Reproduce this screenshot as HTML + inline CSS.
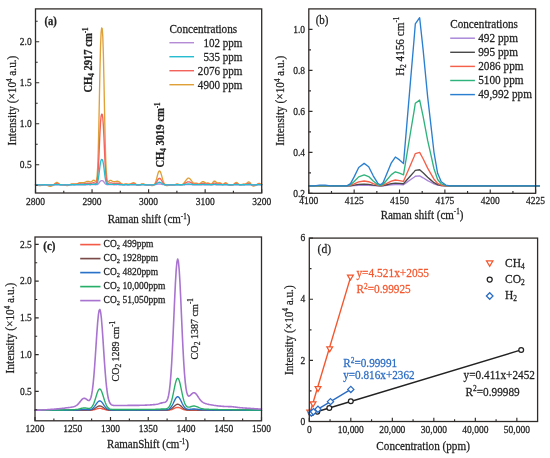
<!DOCTYPE html>
<html><head><meta charset="utf-8"><title>Raman spectra</title>
<style>
html,body{margin:0;padding:0;background:#fff;}
svg{display:block;filter:blur(0.35px)}
text{font-family:"Liberation Serif",serif;stroke-width:0.25px;}
</style></head><body>
<svg width="550" height="458" viewBox="0 0 550 458">
<rect width="550" height="458" fill="#fff"/>
<path d="M35.5 184.96 L36.07 185.02 L36.63 185.11 L37.2 185.22 L37.76 185.34 L38.33 185.45 L38.89 185.53 L39.46 185.59 L40.02 185.59 L40.59 185.54 L41.16 185.45 L41.72 185.31 L42.29 185.15 L42.85 184.98 L43.42 184.83 L43.98 184.72 L44.55 184.66 L45.11 184.68 L45.68 184.76 L46.24 184.92 L46.81 185.13 L47.38 185.38 L47.94 185.64 L48.51 185.88 L49.07 186.08 L49.64 186.21 L50.2 186.25 L50.77 186.21 L51.33 186.07 L51.9 185.84 L52.47 185.54 L53.03 185.17 L53.6 184.75 L54.16 184.27 L54.73 183.76 L55.29 183.25 L55.86 182.81 L56.42 182.53 L56.99 182.46 L57.55 182.63 L58.12 182.98 L58.69 183.43 L59.25 183.89 L59.82 184.27 L60.38 184.56 L60.95 184.74 L61.51 184.85 L62.08 184.91 L62.64 184.95 L63.21 184.99 L63.77 185.03 L64.34 185.1 L64.91 185.19 L65.47 185.3 L66.04 185.41 L66.6 185.5 L67.17 185.55 L67.73 185.51 L68.3 185.38 L68.86 185.15 L69.43 184.87 L70 184.57 L70.56 184.31 L71.13 184.13 L71.69 184.03 L72.26 183.98 L72.82 183.97 L73.39 183.97 L73.95 183.96 L74.52 183.96 L75.08 183.94 L75.65 183.9 L76.22 183.83 L76.78 183.7 L77.35 183.52 L77.91 183.3 L78.48 183.06 L79.04 182.85 L79.61 182.69 L80.17 182.59 L80.74 182.56 L81.31 182.58 L81.87 182.61 L82.44 182.63 L83 182.63 L83.57 182.6 L84.13 182.52 L84.7 182.4 L85.26 182.22 L85.83 181.99 L86.39 181.73 L86.96 181.49 L87.53 181.33 L88.09 181.31 L88.66 181.44 L89.22 181.67 L89.79 181.9 L90.35 182.01 L90.92 181.93 L91.48 181.63 L92.05 181.16 L92.62 180.67 L93.18 180.31 L93.75 180.22 L94.31 180.45 L94.88 180.92 L95.44 181.4 L96.01 181.43 L96.57 180.11 L97.14 175.86 L97.71 166.53 L98.27 150.13 L98.84 126.35 L99.4 97.69 L99.97 69.17 L100.53 46.3 L101.1 32.61 L101.66 28 L102.23 28.71 L102.79 36.38 L103.36 53.7 L103.93 79.25 L104.49 108.43 L105.06 135.64 L105.62 156.7 L106.19 170.3 L106.75 177.58 L107.32 180.7 L107.88 181.62 L108.45 181.55 L109.02 181.14 L109.58 180.71 L110.15 180.44 L110.71 180.41 L111.28 180.6 L111.84 180.91 L112.41 181.25 L112.97 181.53 L113.54 181.7 L114.1 181.76 L114.67 181.73 L115.24 181.64 L115.8 181.5 L116.37 181.36 L116.93 181.26 L117.5 181.24 L118.06 181.33 L118.63 181.55 L119.19 181.88 L119.76 182.29 L120.32 182.74 L120.89 183.2 L121.46 183.61 L122.02 183.96 L122.59 184.2 L123.15 184.33 L123.72 184.33 L124.28 184.23 L124.85 184.07 L125.41 183.94 L125.98 183.88 L126.55 183.93 L127.11 184.05 L127.68 184.18 L128.24 184.27 L128.81 184.26 L129.37 184.16 L129.94 183.99 L130.5 183.78 L131.07 183.56 L131.63 183.32 L132.2 183.1 L132.77 182.9 L133.33 182.77 L133.9 182.78 L134.46 182.97 L135.03 183.33 L135.59 183.82 L136.16 184.34 L136.72 184.79 L137.29 185.11 L137.86 185.28 L138.42 185.3 L138.99 185.2 L139.55 185.01 L140.12 184.76 L140.68 184.48 L141.25 184.21 L141.81 183.98 L142.38 183.85 L142.94 183.84 L143.51 183.96 L144.08 184.19 L144.64 184.48 L145.21 184.76 L145.77 185 L146.34 185.18 L146.9 185.29 L147.47 185.35 L148.03 185.37 L148.6 185.37 L149.17 185.36 L149.73 185.37 L150.3 185.39 L150.86 185.44 L151.43 185.5 L151.99 185.54 L152.56 185.54 L153.12 185.44 L153.69 185.16 L154.25 184.64 L154.82 183.79 L155.39 182.56 L155.95 180.93 L156.52 178.96 L157.08 176.8 L157.65 174.66 L158.21 172.8 L158.78 171.48 L159.34 170.88 L159.91 171.09 L160.48 172.06 L161.04 173.64 L161.61 175.59 L162.17 177.67 L162.74 179.66 L163.3 181.41 L163.87 182.84 L164.43 183.93 L165 184.71 L165.56 185.22 L166.13 185.51 L166.7 185.64 L167.26 185.65 L167.83 185.58 L168.39 185.46 L168.96 185.33 L169.52 185.2 L170.09 185.1 L170.65 185.03 L171.22 185.01 L171.79 185.02 L172.35 185.05 L172.92 185.08 L173.48 185.07 L174.05 185 L174.61 184.85 L175.18 184.63 L175.74 184.38 L176.31 184.17 L176.88 184.04 L177.44 184.04 L178.01 184.14 L178.57 184.32 L179.14 184.5 L179.7 184.66 L180.27 184.75 L180.83 184.76 L181.4 184.69 L181.96 184.53 L182.53 184.26 L183.1 183.87 L183.66 183.35 L184.23 182.72 L184.79 181.99 L185.36 181.19 L185.92 180.38 L186.49 179.62 L187.05 178.96 L187.62 178.47 L188.19 178.18 L188.75 178.13 L189.32 178.32 L189.88 178.74 L190.45 179.35 L191.01 180.1 L191.58 180.92 L192.14 181.72 L192.71 182.42 L193.27 182.93 L193.84 183.21 L194.41 183.28 L194.97 183.2 L195.54 183.09 L196.1 183.08 L196.67 183.21 L197.23 183.46 L197.8 183.73 L198.36 183.91 L198.93 183.93 L199.49 183.75 L200.06 183.39 L200.63 182.93 L201.19 182.44 L201.76 182.02 L202.32 181.73 L202.89 181.62 L203.45 181.72 L204.02 181.97 L204.58 182.32 L205.15 182.66 L205.72 182.93 L206.28 183.06 L206.85 183.07 L207.41 183.01 L207.98 182.97 L208.54 183.05 L209.11 183.28 L209.67 183.61 L210.24 183.94 L210.81 184.13 L211.37 184.05 L211.94 183.65 L212.5 182.98 L213.07 182.19 L213.63 181.51 L214.2 181.11 L214.76 181.1 L215.33 181.42 L215.89 181.93 L216.46 182.44 L217.03 182.8 L217.59 182.98 L218.16 182.98 L218.72 182.88 L219.29 182.79 L219.85 182.82 L220.42 183.01 L220.98 183.36 L221.55 183.8 L222.11 184.19 L222.68 184.38 L223.25 184.29 L223.81 183.94 L224.38 183.44 L224.94 182.99 L225.51 182.74 L226.07 182.8 L226.64 183.13 L227.2 183.63 L227.77 184.14 L228.34 184.57 L228.9 184.87 L229.47 185.05 L230.03 185.15 L230.6 185.18 L231.16 185.17 L231.73 185.1 L232.29 184.97 L232.86 184.75 L233.42 184.41 L233.99 183.96 L234.56 183.44 L235.12 182.94 L235.69 182.56 L236.25 182.42 L236.82 182.55 L237.38 182.91 L237.95 183.41 L238.51 183.93 L239.08 184.37 L239.65 184.66 L240.21 184.77 L240.78 184.74 L241.34 184.6 L241.91 184.43 L242.47 184.3 L243.04 184.22 L243.6 184.19 L244.17 184.18 L244.74 184.13 L245.3 184 L245.87 183.77 L246.43 183.43 L247 182.99 L247.56 182.52 L248.13 182.13 L248.69 181.93 L249.26 182.05 L249.82 182.5 L250.39 183.21 L250.96 184.03 L251.52 184.81 L252.09 185.42 L252.65 185.82 L253.22 186.01 L253.78 186.04 L254.35 185.94 L254.91 185.75 L255.48 185.48 L256.04 185.14 L256.61 184.73 L257.18 184.29 L257.74 183.88 L258.31 183.58 L258.87 183.44 L259.44 183.49 L260 183.68 L260.57 183.94 L261.13 184.18 L261.7 184.35" stroke="#e0a038" stroke-width="1.35" fill="none" stroke-linejoin="round" stroke-linecap="round"/>
<path d="M35.5 184.87 L36.07 184.9 L36.63 184.94 L37.2 184.99 L37.76 185.04 L38.33 185.09 L38.89 185.13 L39.46 185.15 L40.02 185.16 L40.59 185.13 L41.16 185.09 L41.72 185.03 L42.29 184.96 L42.85 184.88 L43.42 184.81 L43.98 184.76 L44.55 184.74 L45.11 184.74 L45.68 184.78 L46.24 184.85 L46.81 184.95 L47.38 185.06 L47.94 185.18 L48.51 185.29 L49.07 185.38 L49.64 185.43 L50.2 185.45 L50.77 185.43 L51.33 185.37 L51.9 185.27 L52.47 185.13 L53.03 184.97 L53.6 184.78 L54.16 184.56 L54.73 184.33 L55.29 184.1 L55.86 183.91 L56.42 183.78 L56.99 183.75 L57.55 183.82 L58.12 183.98 L58.69 184.18 L59.25 184.39 L59.82 184.56 L60.38 184.69 L60.95 184.77 L61.51 184.82 L62.08 184.85 L62.64 184.87 L63.21 184.88 L63.77 184.91 L64.34 184.94 L64.91 184.98 L65.47 185.03 L66.04 185.08 L66.6 185.12 L67.17 185.14 L67.73 185.12 L68.3 185.06 L68.86 184.96 L69.43 184.83 L70 184.7 L70.56 184.58 L71.13 184.5 L71.69 184.45 L72.26 184.43 L72.82 184.43 L73.39 184.42 L73.95 184.42 L74.52 184.42 L75.08 184.41 L75.65 184.4 L76.22 184.36 L76.78 184.3 L77.35 184.22 L77.91 184.12 L78.48 184.02 L79.04 183.92 L79.61 183.85 L80.17 183.81 L80.74 183.79 L81.31 183.8 L81.87 183.81 L82.44 183.82 L83 183.82 L83.57 183.81 L84.13 183.77 L84.7 183.72 L85.26 183.64 L85.83 183.53 L86.39 183.42 L86.96 183.31 L87.53 183.24 L88.09 183.23 L88.66 183.29 L89.22 183.39 L89.79 183.49 L90.35 183.54 L90.92 183.51 L91.48 183.37 L92.05 183.16 L92.62 182.94 L93.18 182.78 L93.75 182.74 L94.31 182.84 L94.88 183.05 L95.44 183.27 L96.01 183.28 L96.57 182.69 L97.14 180.77 L97.71 176.57 L98.27 169.18 L98.84 158.46 L99.4 145.54 L99.97 132.69 L100.53 122.38 L101.1 116.22 L101.66 114.14 L102.23 114.46 L102.79 117.91 L103.36 125.72 L103.93 137.23 L104.49 150.39 L105.06 162.65 L105.62 172.14 L106.19 178.27 L106.75 181.55 L107.32 182.96 L107.88 183.37 L108.45 183.34 L109.02 183.15 L109.58 182.96 L110.15 182.84 L110.71 182.83 L111.28 182.91 L111.84 183.05 L112.41 183.2 L112.97 183.33 L113.54 183.4 L114.1 183.43 L114.67 183.42 L115.24 183.38 L115.8 183.32 L116.37 183.25 L116.93 183.21 L117.5 183.2 L118.06 183.24 L118.63 183.34 L119.19 183.48 L119.76 183.67 L120.32 183.87 L120.89 184.08 L121.46 184.27 L122.02 184.42 L122.59 184.53 L123.15 184.59 L123.72 184.59 L124.28 184.54 L124.85 184.47 L125.41 184.41 L125.98 184.39 L126.55 184.41 L127.11 184.46 L127.68 184.52 L128.24 184.56 L128.81 184.56 L129.37 184.51 L129.94 184.44 L130.5 184.34 L131.07 184.24 L131.63 184.14 L132.2 184.03 L132.77 183.94 L133.33 183.89 L133.9 183.89 L134.46 183.98 L135.03 184.14 L135.59 184.36 L136.16 184.59 L136.72 184.8 L137.29 184.94 L137.86 185.02 L138.42 185.02 L138.99 184.98 L139.55 184.89 L140.12 184.78 L140.68 184.66 L141.25 184.53 L141.81 184.43 L142.38 184.37 L142.94 184.37 L143.51 184.42 L144.08 184.53 L144.64 184.65 L145.21 184.78 L145.77 184.89 L146.34 184.97 L146.9 185.02 L147.47 185.05 L148.03 185.05 L148.6 185.05 L149.17 185.05 L149.73 185.06 L150.3 185.07 L150.86 185.09 L151.43 185.11 L151.99 185.13 L152.56 185.13 L153.12 185.08 L153.69 184.95 L154.25 184.7 L154.82 184.31 L155.39 183.73 L155.95 182.97 L156.52 182.05 L157.08 181.05 L157.65 180.05 L158.21 179.18 L158.78 178.57 L159.34 178.29 L159.91 178.39 L160.48 178.85 L161.04 179.59 L161.61 180.5 L162.17 181.47 L162.74 182.4 L163.3 183.21 L163.87 183.88 L164.43 184.38 L165 184.74 L165.56 184.98 L166.13 185.12 L166.7 185.18 L167.26 185.18 L167.83 185.15 L168.39 185.1 L168.96 185.04 L169.52 184.98 L170.09 184.93 L170.65 184.9 L171.22 184.89 L171.79 184.9 L172.35 184.91 L172.92 184.92 L173.48 184.92 L174.05 184.89 L174.61 184.82 L175.18 184.72 L175.74 184.61 L176.31 184.51 L176.88 184.46 L177.44 184.46 L178.01 184.5 L178.57 184.58 L179.14 184.67 L179.7 184.73 L180.27 184.78 L180.83 184.78 L181.4 184.75 L181.96 184.68 L182.53 184.56 L183.1 184.38 L183.66 184.15 L184.23 183.86 L184.79 183.53 L185.36 183.18 L185.92 182.81 L186.49 182.47 L187.05 182.17 L187.62 181.95 L188.19 181.82 L188.75 181.8 L189.32 181.88 L189.88 182.07 L190.45 182.35 L191.01 182.68 L191.58 183.05 L192.14 183.41 L192.71 183.73 L193.27 183.96 L193.84 184.09 L194.41 184.12 L194.97 184.08 L195.54 184.03 L196.1 184.03 L196.67 184.08 L197.23 184.19 L197.8 184.32 L198.36 184.4 L198.93 184.41 L199.49 184.33 L200.06 184.17 L200.63 183.96 L201.19 183.74 L201.76 183.55 L202.32 183.42 L202.89 183.37 L203.45 183.41 L204.02 183.53 L204.58 183.68 L205.15 183.84 L205.72 183.96 L206.28 184.02 L206.85 184.02 L207.41 183.99 L207.98 183.98 L208.54 184.01 L209.11 184.11 L209.67 184.26 L210.24 184.41 L210.81 184.5 L211.37 184.46 L211.94 184.28 L212.5 183.98 L213.07 183.63 L213.63 183.32 L214.2 183.14 L214.76 183.13 L215.33 183.28 L215.89 183.51 L216.46 183.74 L217.03 183.9 L217.59 183.98 L218.16 183.98 L218.72 183.94 L219.29 183.9 L219.85 183.91 L220.42 183.99 L220.98 184.15 L221.55 184.35 L222.11 184.52 L222.68 184.61 L223.25 184.57 L223.81 184.41 L224.38 184.19 L224.94 183.98 L225.51 183.87 L226.07 183.9 L226.64 184.05 L227.2 184.27 L227.77 184.5 L228.34 184.7 L228.9 184.83 L229.47 184.91 L230.03 184.96 L230.6 184.97 L231.16 184.97 L231.73 184.94 L232.29 184.88 L232.86 184.78 L233.42 184.62 L233.99 184.42 L234.56 184.19 L235.12 183.96 L235.69 183.79 L236.25 183.73 L236.82 183.79 L237.38 183.95 L237.95 184.18 L238.51 184.41 L239.08 184.61 L239.65 184.73 L240.21 184.79 L240.78 184.77 L241.34 184.71 L241.91 184.64 L242.47 184.57 L243.04 184.54 L243.6 184.52 L244.17 184.52 L244.74 184.5 L245.3 184.44 L245.87 184.34 L246.43 184.18 L247 183.99 L247.56 183.78 L248.13 183.6 L248.69 183.51 L249.26 183.56 L249.82 183.77 L250.39 184.09 L250.96 184.46 L251.52 184.8 L252.09 185.08 L252.65 185.26 L253.22 185.34 L253.78 185.36 L254.35 185.31 L254.91 185.23 L255.48 185.11 L256.04 184.95 L256.61 184.77 L257.18 184.57 L257.74 184.39 L258.31 184.25 L258.87 184.19 L259.44 184.21 L260 184.3 L260.57 184.41 L261.13 184.52 L261.7 184.6" stroke="#f4625c" stroke-width="1.35" fill="none" stroke-linejoin="round" stroke-linecap="round"/>
<path d="M35.5 184.8 L36.07 184.81 L36.63 184.81 L37.2 184.81 L37.76 184.82 L38.33 184.82 L38.89 184.82 L39.46 184.82 L40.02 184.82 L40.59 184.82 L41.16 184.82 L41.72 184.81 L42.29 184.81 L42.85 184.8 L43.42 184.8 L43.98 184.8 L44.55 184.8 L45.11 184.8 L45.68 184.8 L46.24 184.8 L46.81 184.81 L47.38 184.82 L47.94 184.82 L48.51 184.83 L49.07 184.84 L49.64 184.84 L50.2 184.84 L50.77 184.84 L51.33 184.84 L51.9 184.83 L52.47 184.82 L53.03 184.81 L53.6 184.8 L54.16 184.78 L54.73 184.77 L55.29 184.75 L55.86 184.74 L56.42 184.73 L56.99 184.73 L57.55 184.73 L58.12 184.75 L58.69 184.76 L59.25 184.77 L59.82 184.78 L60.38 184.79 L60.95 184.8 L61.51 184.8 L62.08 184.8 L62.64 184.8 L63.21 184.81 L63.77 184.81 L64.34 184.81 L64.91 184.81 L65.47 184.81 L66.04 184.82 L66.6 184.82 L67.17 184.82 L67.73 184.82 L68.3 184.82 L68.86 184.81 L69.43 184.8 L70 184.79 L70.56 184.79 L71.13 184.78 L71.69 184.78 L72.26 184.78 L72.82 184.77 L73.39 184.77 L73.95 184.77 L74.52 184.77 L75.08 184.77 L75.65 184.77 L76.22 184.77 L76.78 184.77 L77.35 184.76 L77.91 184.75 L78.48 184.75 L79.04 184.74 L79.61 184.74 L80.17 184.73 L80.74 184.73 L81.31 184.73 L81.87 184.73 L82.44 184.73 L83 184.73 L83.57 184.73 L84.13 184.73 L84.7 184.73 L85.26 184.72 L85.83 184.72 L86.39 184.71 L86.96 184.7 L87.53 184.7 L88.09 184.69 L88.66 184.7 L89.22 184.71 L89.79 184.71 L90.35 184.72 L90.92 184.71 L91.48 184.7 L92.05 184.69 L92.62 184.68 L93.18 184.66 L93.75 184.66 L94.31 184.67 L94.88 184.68 L95.44 184.7 L96.01 184.7 L96.57 184.67 L97.14 184.56 L97.71 184.31 L98.27 183.87 L98.84 183.23 L99.4 182.47 L99.97 181.71 L100.53 181.1 L101.1 180.73 L101.66 180.61 L102.23 180.63 L102.79 180.83 L103.36 181.29 L103.93 181.97 L104.49 182.75 L105.06 183.48 L105.62 184.04 L106.19 184.4 L106.75 184.6 L107.32 184.68 L107.88 184.71 L108.45 184.7 L109.02 184.69 L109.58 184.68 L110.15 184.67 L110.71 184.67 L111.28 184.67 L111.84 184.68 L112.41 184.69 L112.97 184.7 L113.54 184.71 L114.1 184.71 L114.67 184.71 L115.24 184.7 L115.8 184.7 L116.37 184.7 L116.93 184.69 L117.5 184.69 L118.06 184.7 L118.63 184.7 L119.19 184.71 L119.76 184.72 L120.32 184.74 L120.89 184.75 L121.46 184.76 L122.02 184.77 L122.59 184.78 L123.15 184.79 L123.72 184.79 L124.28 184.78 L124.85 184.78 L125.41 184.77 L125.98 184.77 L126.55 184.77 L127.11 184.78 L127.68 184.78 L128.24 184.78 L128.81 184.78 L129.37 184.78 L129.94 184.78 L130.5 184.77 L131.07 184.76 L131.63 184.76 L132.2 184.75 L132.77 184.74 L133.33 184.74 L133.9 184.74 L134.46 184.74 L135.03 184.76 L135.59 184.77 L136.16 184.79 L136.72 184.8 L137.29 184.81 L137.86 184.81 L138.42 184.81 L138.99 184.81 L139.55 184.81 L140.12 184.8 L140.68 184.79 L141.25 184.78 L141.81 184.78 L142.38 184.77 L142.94 184.77 L143.51 184.77 L144.08 184.78 L144.64 184.79 L145.21 184.8 L145.77 184.81 L146.34 184.81 L146.9 184.81 L147.47 184.82 L148.03 184.82 L148.6 184.82 L149.17 184.82 L149.73 184.82 L150.3 184.82 L150.86 184.82 L151.43 184.82 L151.99 184.82 L152.56 184.81 L153.12 184.8 L153.69 184.79 L154.25 184.75 L154.82 184.7 L155.39 184.63 L155.95 184.53 L156.52 184.41 L157.08 184.29 L157.65 184.17 L158.21 184.06 L158.78 183.99 L159.34 183.96 L159.91 183.97 L160.48 184.04 L161.04 184.13 L161.61 184.25 L162.17 184.38 L162.74 184.49 L163.3 184.59 L163.87 184.67 L164.43 184.73 L165 184.77 L165.56 184.8 L166.13 184.81 L166.7 184.82 L167.26 184.82 L167.83 184.82 L168.39 184.82 L168.96 184.82 L169.52 184.81 L170.09 184.81 L170.65 184.81 L171.22 184.81 L171.79 184.81 L172.35 184.81 L172.92 184.81 L173.48 184.81 L174.05 184.81 L174.61 184.8 L175.18 184.79 L175.74 184.79 L176.31 184.78 L176.88 184.78 L177.44 184.78 L178.01 184.78 L178.57 184.79 L179.14 184.79 L179.7 184.8 L180.27 184.8 L180.83 184.8 L181.4 184.8 L181.96 184.79 L182.53 184.78 L183.1 184.77 L183.66 184.76 L184.23 184.74 L184.79 184.72 L185.36 184.69 L185.92 184.67 L186.49 184.64 L187.05 184.62 L187.62 184.61 L188.19 184.6 L188.75 184.6 L189.32 184.61 L189.88 184.62 L190.45 184.64 L191.01 184.66 L191.58 184.68 L192.14 184.71 L192.71 184.73 L193.27 184.74 L193.84 184.75 L194.41 184.75 L194.97 184.75 L195.54 184.75 L196.1 184.75 L196.67 184.75 L197.23 184.76 L197.8 184.77 L198.36 184.77 L198.93 184.77 L199.49 184.77 L200.06 184.76 L200.63 184.74 L201.19 184.73 L201.76 184.72 L202.32 184.71 L202.89 184.7 L203.45 184.71 L204.02 184.71 L204.58 184.73 L205.15 184.74 L205.72 184.74 L206.28 184.75 L206.85 184.75 L207.41 184.75 L207.98 184.74 L208.54 184.75 L209.11 184.75 L209.67 184.76 L210.24 184.77 L210.81 184.78 L211.37 184.78 L211.94 184.77 L212.5 184.74 L213.07 184.72 L213.63 184.7 L214.2 184.69 L214.76 184.69 L215.33 184.7 L215.89 184.71 L216.46 184.73 L217.03 184.74 L217.59 184.74 L218.16 184.74 L218.72 184.74 L219.29 184.74 L219.85 184.74 L220.42 184.75 L220.98 184.76 L221.55 184.77 L222.11 184.78 L222.68 184.79 L223.25 184.78 L223.81 184.77 L224.38 184.76 L224.94 184.75 L225.51 184.74 L226.07 184.74 L226.64 184.75 L227.2 184.76 L227.77 184.78 L228.34 184.79 L228.9 184.8 L229.47 184.81 L230.03 184.81 L230.6 184.81 L231.16 184.81 L231.73 184.81 L232.29 184.8 L232.86 184.8 L233.42 184.79 L233.99 184.77 L234.56 184.76 L235.12 184.74 L235.69 184.73 L236.25 184.73 L236.82 184.73 L237.38 184.74 L237.95 184.76 L238.51 184.77 L239.08 184.79 L239.65 184.8 L240.21 184.8 L240.78 184.8 L241.34 184.79 L241.91 184.79 L242.47 184.78 L243.04 184.78 L243.6 184.78 L244.17 184.78 L244.74 184.78 L245.3 184.78 L245.87 184.77 L246.43 184.76 L247 184.75 L247.56 184.73 L248.13 184.72 L248.69 184.71 L249.26 184.72 L249.82 184.73 L250.39 184.75 L250.96 184.78 L251.52 184.8 L252.09 184.82 L252.65 184.83 L253.22 184.84 L253.78 184.84 L254.35 184.83 L254.91 184.83 L255.48 184.82 L256.04 184.81 L256.61 184.8 L257.18 184.78 L257.74 184.77 L258.31 184.76 L258.87 184.76 L259.44 184.76 L260 184.77 L260.57 184.77 L261.13 184.78 L261.7 184.79" stroke="#b58bd6" stroke-width="1.35" fill="none" stroke-linejoin="round" stroke-linecap="round"/>
<path d="M35.5 184.82 L36.07 184.83 L36.63 184.84 L37.2 184.85 L37.76 184.86 L38.33 184.88 L38.89 184.89 L39.46 184.89 L40.02 184.89 L40.59 184.89 L41.16 184.88 L41.72 184.86 L42.29 184.84 L42.85 184.82 L43.42 184.8 L43.98 184.79 L44.55 184.78 L45.11 184.78 L45.68 184.8 L46.24 184.81 L46.81 184.84 L47.38 184.87 L47.94 184.9 L48.51 184.93 L49.07 184.95 L49.64 184.97 L50.2 184.97 L50.77 184.97 L51.33 184.95 L51.9 184.92 L52.47 184.89 L53.03 184.84 L53.6 184.79 L54.16 184.74 L54.73 184.67 L55.29 184.61 L55.86 184.56 L56.42 184.53 L56.99 184.52 L57.55 184.54 L58.12 184.58 L58.69 184.64 L59.25 184.69 L59.82 184.74 L60.38 184.77 L60.95 184.79 L61.51 184.81 L62.08 184.81 L62.64 184.82 L63.21 184.82 L63.77 184.83 L64.34 184.84 L64.91 184.85 L65.47 184.86 L66.04 184.87 L66.6 184.88 L67.17 184.89 L67.73 184.88 L68.3 184.87 L68.86 184.84 L69.43 184.81 L70 184.77 L70.56 184.74 L71.13 184.72 L71.69 184.71 L72.26 184.7 L72.82 184.7 L73.39 184.7 L73.95 184.7 L74.52 184.7 L75.08 184.7 L75.65 184.69 L76.22 184.68 L76.78 184.67 L77.35 184.65 L77.91 184.62 L78.48 184.59 L79.04 184.57 L79.61 184.55 L80.17 184.53 L80.74 184.53 L81.31 184.53 L81.87 184.54 L82.44 184.54 L83 184.54 L83.57 184.54 L84.13 184.53 L84.7 184.51 L85.26 184.49 L85.83 184.46 L86.39 184.43 L86.96 184.4 L87.53 184.38 L88.09 184.38 L88.66 184.4 L89.22 184.42 L89.79 184.45 L90.35 184.46 L90.92 184.45 L91.48 184.42 L92.05 184.36 L92.62 184.3 L93.18 184.26 L93.75 184.25 L94.31 184.28 L94.88 184.33 L95.44 184.38 L96.01 184.36 L96.57 184.13 L97.14 183.42 L97.71 181.9 L98.27 179.23 L98.84 175.37 L99.4 170.72 L99.97 166.09 L100.53 162.38 L101.1 160.17 L101.66 159.43 L102.23 159.55 L102.79 160.8 L103.36 163.62 L103.93 167.77 L104.49 172.51 L105.06 176.92 L105.62 180.34 L106.19 182.54 L106.75 183.73 L107.32 184.24 L107.88 184.4 L108.45 184.4 L109.02 184.36 L109.58 184.31 L110.15 184.28 L110.71 184.27 L111.28 184.3 L111.84 184.33 L112.41 184.37 L112.97 184.41 L113.54 184.43 L114.1 184.43 L114.67 184.43 L115.24 184.42 L115.8 184.4 L116.37 184.39 L116.93 184.38 L117.5 184.37 L118.06 184.38 L118.63 184.41 L119.19 184.45 L119.76 184.5 L120.32 184.55 L120.89 184.61 L121.46 184.66 L122.02 184.7 L122.59 184.73 L123.15 184.74 L123.72 184.74 L124.28 184.73 L124.85 184.71 L125.41 184.7 L125.98 184.69 L126.55 184.69 L127.11 184.71 L127.68 184.73 L128.24 184.74 L128.81 184.73 L129.37 184.72 L129.94 184.7 L130.5 184.68 L131.07 184.65 L131.63 184.62 L132.2 184.6 L132.77 184.57 L133.33 184.56 L133.9 184.56 L134.46 184.58 L135.03 184.62 L135.59 184.68 L136.16 184.74 L136.72 184.8 L137.29 184.84 L137.86 184.86 L138.42 184.86 L138.99 184.85 L139.55 184.82 L140.12 184.8 L140.68 184.76 L141.25 184.73 L141.81 184.7 L142.38 184.69 L142.94 184.68 L143.51 184.7 L144.08 184.73 L144.64 184.76 L145.21 184.79 L145.77 184.82 L146.34 184.84 L146.9 184.86 L147.47 184.87 L148.03 184.87 L148.6 184.87 L149.17 184.87 L149.73 184.87 L150.3 184.87 L150.86 184.87 L151.43 184.88 L151.99 184.88 L152.56 184.87 L153.12 184.85 L153.69 184.79 L154.25 184.69 L154.82 184.53 L155.39 184.31 L155.95 184.02 L156.52 183.66 L157.08 183.28 L157.65 182.9 L158.21 182.57 L158.78 182.34 L159.34 182.24 L159.91 182.29 L160.48 182.48 L161.04 182.77 L161.61 183.13 L162.17 183.51 L162.74 183.86 L163.3 184.17 L163.87 184.42 L164.43 184.61 L165 184.74 L165.56 184.82 L166.13 184.87 L166.7 184.89 L167.26 184.9 L167.83 184.89 L168.39 184.88 L168.96 184.86 L169.52 184.85 L170.09 184.84 L170.65 184.83 L171.22 184.82 L171.79 184.83 L172.35 184.83 L172.92 184.83 L173.48 184.83 L174.05 184.82 L174.61 184.81 L175.18 184.78 L175.74 184.75 L176.31 184.72 L176.88 184.71 L177.44 184.71 L178.01 184.72 L178.57 184.74 L179.14 184.76 L179.7 184.78 L180.27 184.79 L180.83 184.79 L181.4 184.79 L181.96 184.77 L182.53 184.73 L183.1 184.69 L183.66 184.63 L184.23 184.55 L184.79 184.46 L185.36 184.37 L185.92 184.27 L186.49 184.18 L187.05 184.1 L187.62 184.04 L188.19 184.01 L188.75 184 L189.32 184.02 L189.88 184.07 L190.45 184.15 L191.01 184.24 L191.58 184.33 L192.14 184.43 L192.71 184.51 L193.27 184.58 L193.84 184.61 L194.41 184.62 L194.97 184.61 L195.54 184.59 L196.1 184.59 L196.67 184.61 L197.23 184.64 L197.8 184.67 L198.36 184.69 L198.93 184.7 L199.49 184.67 L200.06 184.63 L200.63 184.58 L201.19 184.52 L201.76 184.47 L202.32 184.43 L202.89 184.42 L203.45 184.43 L204.02 184.46 L204.58 184.5 L205.15 184.54 L205.72 184.58 L206.28 184.59 L206.85 184.59 L207.41 184.58 L207.98 184.58 L208.54 184.59 L209.11 184.62 L209.67 184.66 L210.24 184.7 L210.81 184.72 L211.37 184.71 L211.94 184.66 L212.5 184.58 L213.07 184.49 L213.63 184.4 L214.2 184.36 L214.76 184.36 L215.33 184.39 L215.89 184.46 L216.46 184.52 L217.03 184.56 L217.59 184.58 L218.16 184.58 L218.72 184.57 L219.29 184.56 L219.85 184.56 L220.42 184.58 L220.98 184.63 L221.55 184.68 L222.11 184.73 L222.68 184.75 L223.25 184.74 L223.81 184.7 L224.38 184.64 L224.94 184.58 L225.51 184.55 L226.07 184.56 L226.64 184.6 L227.2 184.66 L227.77 184.72 L228.34 184.77 L228.9 184.81 L229.47 184.83 L230.03 184.84 L230.6 184.85 L231.16 184.84 L231.73 184.84 L232.29 184.82 L232.86 184.79 L233.42 184.75 L233.99 184.7 L234.56 184.64 L235.12 184.58 L235.69 184.53 L236.25 184.51 L236.82 184.53 L237.38 184.57 L237.95 184.63 L238.51 184.7 L239.08 184.75 L239.65 184.78 L240.21 184.8 L240.78 184.79 L241.34 184.78 L241.91 184.76 L242.47 184.74 L243.04 184.73 L243.6 184.73 L244.17 184.72 L244.74 184.72 L245.3 184.7 L245.87 184.68 L246.43 184.64 L247 184.58 L247.56 184.53 L248.13 184.48 L248.69 184.46 L249.26 184.47 L249.82 184.52 L250.39 184.61 L250.96 184.71 L251.52 184.8 L252.09 184.87 L252.65 184.92 L253.22 184.94 L253.78 184.95 L254.35 184.94 L254.91 184.91 L255.48 184.88 L256.04 184.84 L256.61 184.79 L257.18 184.74 L257.74 184.69 L258.31 184.65 L258.87 184.64 L259.44 184.64 L260 184.67 L260.57 184.7 L261.13 184.73 L261.7 184.75" stroke="#27bcd0" stroke-width="1.35" fill="none" stroke-linejoin="round" stroke-linecap="round"/>
<rect x="35.5" y="8.9" width="226.2" height="184.1" fill="none" stroke="#302c2a" stroke-width="1.3"/>
<path d="M35.5 193.0v-3.7M92.05 193.0v-3.7M148.6 193.0v-3.7M205.15 193.0v-3.7M261.7 193.0v-3.7M63.77 193.0v-2.2M120.32 193.0v-2.2M176.88 193.0v-2.2M233.42 193.0v-2.2" stroke="#302c2a" stroke-width="1.15" fill="none"/>
<text transform="translate(35.5 204.5) scale(0.9091 1)" font-size="10.45" text-anchor="middle" fill="#222" stroke="#222">2800</text>
<text transform="translate(92.05 204.5) scale(0.9091 1)" font-size="10.45" text-anchor="middle" fill="#222" stroke="#222">2900</text>
<text transform="translate(148.6 204.5) scale(0.9091 1)" font-size="10.45" text-anchor="middle" fill="#222" stroke="#222">3000</text>
<text transform="translate(205.15 204.5) scale(0.9091 1)" font-size="10.45" text-anchor="middle" fill="#222" stroke="#222">3100</text>
<text transform="translate(261.7 204.5) scale(0.9091 1)" font-size="10.45" text-anchor="middle" fill="#222" stroke="#222">3200</text>
<path d="M35.5 164.71h3.7M35.5 123.71h3.7M35.5 82.7h3.7M35.5 41.7h3.7M35.5 185.21h2.2M35.5 144.21h2.2M35.5 103.21h2.2M35.5 62.2h2.2M35.5 21.2h2.2" stroke="#302c2a" stroke-width="1.15" fill="none"/>
<text transform="translate(31.7 167.91) scale(0.9091 1)" font-size="10.45" text-anchor="end" fill="#222" stroke="#222">0.5</text>
<text transform="translate(31.7 126.91) scale(0.9091 1)" font-size="10.45" text-anchor="end" fill="#222" stroke="#222">1.0</text>
<text transform="translate(31.7 85.9) scale(0.9091 1)" font-size="10.45" text-anchor="end" fill="#222" stroke="#222">1.5</text>
<text transform="translate(31.7 44.9) scale(0.9091 1)" font-size="10.45" text-anchor="end" fill="#222" stroke="#222">2.0</text>
<text transform="translate(44.5 24.5) scale(0.9091 1)" font-size="11.66" text-anchor="start" font-weight="bold" stroke-width="0" fill="#222" stroke="#222">(a)</text>
<text transform="translate(15.9 100.6) rotate(-90) scale(0.9091 1)" font-size="12.43" text-anchor="middle" fill="#222" stroke="#222">Intensity (×10<tspan baseline-shift="4" font-size="7.48">4</tspan> a.u.)</text>
<text transform="translate(149 222.7) scale(0.9091 1)" font-size="12.1" text-anchor="middle" fill="#222" stroke="#222">Raman shift (cm<tspan baseline-shift="4" font-size="7.7">-1</tspan>)</text>
<text transform="translate(92.1 60.0) rotate(-90) scale(0.9091 1)" font-size="11.66" text-anchor="middle" font-weight="bold" stroke-width="0" fill="#222" stroke="#222">CH<tspan baseline-shift="-2.2" font-size="7.7">4</tspan> 2917 cm<tspan baseline-shift="4" font-size="7.7">-1</tspan></text>
<text transform="translate(163.7 135.0) rotate(-90) scale(0.9091 1)" font-size="11.66" text-anchor="middle" font-weight="bold" stroke-width="0" fill="#222" stroke="#222">CH<tspan baseline-shift="-2.2" font-size="7.7">4</tspan> 3019 cm<tspan baseline-shift="4" font-size="7.7">-1</tspan></text>
<text transform="translate(169.4 32.6) scale(0.9091 1)" font-size="12.32" text-anchor="start" fill="#222" stroke="#222">Concentrations</text>
<path d="M169.4 42.7H194" stroke="#b58bd6" stroke-width="1.45"/>
<text transform="translate(242.5 46.6) scale(0.9091 1)" font-size="12.21" text-anchor="end" fill="#222" stroke="#222">102 ppm</text>
<path d="M169.4 56.7H194" stroke="#27bcd0" stroke-width="1.45"/>
<text transform="translate(242.5 60.6) scale(0.9091 1)" font-size="12.21" text-anchor="end" fill="#222" stroke="#222">535 ppm</text>
<path d="M169.4 70.7H194" stroke="#f4625c" stroke-width="1.45"/>
<text transform="translate(242.5 74.6) scale(0.9091 1)" font-size="12.21" text-anchor="end" fill="#222" stroke="#222">2076 ppm</text>
<path d="M169.4 84.7H194" stroke="#e0a038" stroke-width="1.45"/>
<text transform="translate(242.5 88.6) scale(0.9091 1)" font-size="12.21" text-anchor="end" fill="#222" stroke="#222">4900 ppm</text>
<path d="M308.8 185.92 L314.24 185.92 L319.69 185.92 L325.13 185.92 L330.57 185.92 L337.83 185.92 L346.9 185.92 L350.53 185.84 L354.16 185.6 L358.7 185.25 L364.14 185.1 L368.68 185.23 L373.21 185.56 L377.75 185.83 L379.56 185.87 L381.38 185.84 L383.19 185.75 L386.82 185.32 L391.36 184.78 L395.35 184.49 L399.52 184.63 L403.51 184.76 L406.78 182.38 L410.41 179.76 L414.04 177.2 L415.31 176.26 L419.66 175.88 L423.11 177.79 L427.64 180.6 L430.36 182.01 L433.99 183.92 L437.62 185.17 L441.25 185.67 L445.79 185.87 L450.32 185.92 L463.02 185.92 L490.24 185.92 L535.6 185.92 L539.23 185.92" stroke="#a884d8" stroke-width="1.35" fill="none" stroke-linejoin="round" stroke-linecap="round"/>
<path d="M308.8 185.92 L314.24 185.92 L319.69 185.92 L325.13 185.92 L330.57 185.92 L337.83 185.92 L346.9 185.92 L350.53 185.74 L354.16 185.19 L358.7 184.41 L364.14 184.08 L368.68 184.36 L373.21 185.09 L377.75 185.7 L379.56 185.81 L381.38 185.75 L383.19 185.58 L386.82 184.72 L391.36 183.63 L395.35 183.06 L399.52 183.34 L403.51 183.72 L406.78 180.05 L410.41 175.93 L414.04 171.86 L415.31 170.34 L419.66 169.74 L423.11 172.81 L427.64 177.35 L430.36 179.61 L433.99 182.69 L437.62 184.71 L441.25 185.52 L445.79 185.84 L450.32 185.92 L463.02 185.92 L490.24 185.92 L535.6 185.92 L539.23 185.92" stroke="#4a4a4a" stroke-width="1.35" fill="none" stroke-linejoin="round" stroke-linecap="round"/>
<path d="M308.8 185.92 L314.24 185.92 L319.69 185.92 L325.13 185.92 L330.57 185.92 L337.83 185.92 L346.9 185.92 L350.53 185.43 L354.16 183.96 L358.7 181.89 L364.14 181.01 L368.68 181.74 L373.21 183.71 L377.75 185.33 L379.56 185.63 L381.38 185.57 L383.19 185.21 L386.82 183.43 L391.36 181.17 L395.35 179.98 L399.52 180.58 L403.51 181.35 L406.78 173.72 L410.41 165.17 L414.04 156.73 L415.31 153.57 L419.66 152.32 L423.11 158.71 L427.64 168.12 L430.36 172.82 L433.99 179.2 L437.62 183.4 L441.25 185.08 L445.79 185.76 L450.32 185.92 L463.02 185.92 L490.24 185.92 L535.6 185.92 L539.23 185.92" stroke="#f4604a" stroke-width="1.35" fill="none" stroke-linejoin="round" stroke-linecap="round"/>
<path d="M308.8 185.92 L314.24 185.92 L319.69 185.92 L325.13 185.92 L330.57 185.92 L337.83 185.92 L346.9 185.92 L350.53 184.82 L354.16 181.5 L358.7 176.85 L364.14 174.86 L368.68 176.52 L373.21 180.95 L377.75 184.6 L379.56 185.26 L381.38 185.08 L383.19 184.23 L386.82 179.99 L391.36 174.61 L395.35 171.79 L399.52 173.2 L403.51 174.87 L406.78 155.07 L410.41 133 L414.04 111.33 L415.31 103.25 L419.66 100.08 L423.11 116.39 L427.64 140.42 L430.36 152.44 L433.99 168.75 L437.62 179.49 L441.25 183.78 L445.79 185.49 L450.32 185.92 L463.02 185.92 L490.24 185.92 L535.6 185.92 L539.23 185.92" stroke="#2fb37c" stroke-width="1.35" fill="none" stroke-linejoin="round" stroke-linecap="round"/>
<path d="M308.8 185.92 L314.24 185.92 L319.69 185.1 L325.13 185.1 L330.57 185.92 L337.83 185.92 L346.9 185.92 L350.53 183.67 L354.16 176.91 L358.7 167.44 L364.14 163.39 L368.68 166.77 L373.21 175.78 L377.75 183.22 L379.56 184.57 L381.38 184.19 L383.19 182.46 L386.82 173.79 L391.36 162.81 L395.35 157.03 L399.52 159.92 L403.51 163.54 L406.78 125.11 L410.41 82.11 L414.04 39.76 L415.31 23.93 L419.66 17.71 L423.11 49.67 L427.64 96.77 L430.36 120.32 L433.99 152.28 L437.62 173.31 L441.25 181.72 L445.79 185.08 L450.32 185.92 L463.02 185.92 L490.24 185.92 L535.6 185.92 L539.23 185.92" stroke="#2a7fd0" stroke-width="1.35" fill="none" stroke-linejoin="round" stroke-linecap="round"/>
<rect x="308.8" y="8.9" width="226.8" height="184.4" fill="none" stroke="#302c2a" stroke-width="1.3"/>
<path d="M308.8 193.3v-3.7M354.16 193.3v-3.7M399.52 193.3v-3.7M444.88 193.3v-3.7M490.24 193.3v-3.7M535.6 193.3v-3.7M331.48 193.3v-2.2M376.84 193.3v-2.2M422.2 193.3v-2.2M467.56 193.3v-2.2M512.92 193.3v-2.2" stroke="#302c2a" stroke-width="1.15" fill="none"/>
<text transform="translate(308.8 204) scale(0.9091 1)" font-size="10.45" text-anchor="middle" fill="#222" stroke="#222">4100</text>
<text transform="translate(354.16 204) scale(0.9091 1)" font-size="10.45" text-anchor="middle" fill="#222" stroke="#222">4125</text>
<text transform="translate(399.52 204) scale(0.9091 1)" font-size="10.45" text-anchor="middle" fill="#222" stroke="#222">4150</text>
<text transform="translate(444.88 204) scale(0.9091 1)" font-size="10.45" text-anchor="middle" fill="#222" stroke="#222">4175</text>
<text transform="translate(490.24 204) scale(0.9091 1)" font-size="10.45" text-anchor="middle" fill="#222" stroke="#222">4200</text>
<text transform="translate(535.6 204) scale(0.9091 1)" font-size="10.45" text-anchor="middle" fill="#222" stroke="#222">4225</text>
<path d="M308.8 193.3h3.7M308.8 152.32h3.7M308.8 111.34h3.7M308.8 70.37h3.7M308.8 29.39h3.7M308.8 172.81h2.2M308.8 131.83h2.2M308.8 90.86h2.2M308.8 49.88h2.2" stroke="#302c2a" stroke-width="1.15" fill="none"/>
<text transform="translate(305 196.5) scale(0.9091 1)" font-size="10.45" text-anchor="end" fill="#222" stroke="#222">0.2</text>
<text transform="translate(305 155.52) scale(0.9091 1)" font-size="10.45" text-anchor="end" fill="#222" stroke="#222">0.4</text>
<text transform="translate(305 114.54) scale(0.9091 1)" font-size="10.45" text-anchor="end" fill="#222" stroke="#222">0.6</text>
<text transform="translate(305 73.57) scale(0.9091 1)" font-size="10.45" text-anchor="end" fill="#222" stroke="#222">0.8</text>
<text transform="translate(305 32.59) scale(0.9091 1)" font-size="10.45" text-anchor="end" fill="#222" stroke="#222">1.0</text>
<text transform="translate(315.7 24.2) scale(0.9091 1)" font-size="12.1" text-anchor="start" fill="#222" stroke="#222">(b)</text>
<text transform="translate(284.1 100.8) rotate(-90) scale(0.9091 1)" font-size="12.43" text-anchor="middle" fill="#222" stroke="#222">Intensity (×10<tspan baseline-shift="4" font-size="7.48">4</tspan> a.u.)</text>
<text transform="translate(422 218.5) scale(0.9091 1)" font-size="12.1" text-anchor="middle" fill="#222" stroke="#222">Raman shift (cm<tspan baseline-shift="4" font-size="7.7">-1</tspan>)</text>
<text transform="translate(403.5 46.3) rotate(-90) scale(0.9091 1)" font-size="12.32" text-anchor="middle" fill="#222" stroke="#222">H<tspan baseline-shift="-2.2" font-size="7.7">2</tspan> 4156 cm<tspan baseline-shift="4" font-size="7.7">-1</tspan></text>
<text transform="translate(450.2 27.5) scale(0.9091 1)" font-size="12.32" text-anchor="start" fill="#222" stroke="#222">Concentrations</text>
<path d="M450.2 38.2H474.9" stroke="#a884d8" stroke-width="1.45"/>
<text transform="translate(478.2 42) scale(0.9091 1)" font-size="12.38" text-anchor="start" fill="#222" stroke="#222">492 ppm</text>
<path d="M450.2 52.3H474.9" stroke="#4a4a4a" stroke-width="1.45"/>
<text transform="translate(478.2 56.1) scale(0.9091 1)" font-size="12.38" text-anchor="start" fill="#222" stroke="#222">995 ppm</text>
<path d="M450.2 66.4H474.9" stroke="#f4604a" stroke-width="1.45"/>
<text transform="translate(478.2 70.2) scale(0.9091 1)" font-size="12.38" text-anchor="start" fill="#222" stroke="#222">2086 ppm</text>
<path d="M450.2 80.5H474.9" stroke="#2fb37c" stroke-width="1.45"/>
<text transform="translate(478.2 84.3) scale(0.9091 1)" font-size="12.38" text-anchor="start" fill="#222" stroke="#222">5100 ppm</text>
<path d="M450.2 94.6H474.9" stroke="#2a7fd0" stroke-width="1.45"/>
<text transform="translate(478.2 98.4) scale(0.9091 1)" font-size="12.38" text-anchor="start" fill="#222" stroke="#222">49,992 ppm</text>
<path d="M35 410.36 L35.76 410.36 L36.51 410.36 L37.27 410.36 L38.02 410.36 L38.77 410.36 L39.53 410.36 L40.28 410.36 L41.04 410.36 L41.8 410.36 L42.55 410.36 L43.3 410.36 L44.06 410.36 L44.81 410.36 L45.57 410.36 L46.33 410.36 L47.08 410.36 L47.84 410.36 L48.59 410.36 L49.34 410.36 L50.1 410.36 L50.86 410.36 L51.61 410.36 L52.36 410.36 L53.12 410.36 L53.88 410.36 L54.63 410.36 L55.38 410.36 L56.14 410.36 L56.89 410.36 L57.65 410.36 L58.41 410.36 L59.16 410.36 L59.91 410.36 L60.67 410.36 L61.42 410.36 L62.18 410.36 L62.94 410.36 L63.69 410.36 L64.44 410.36 L65.2 410.36 L65.95 410.36 L66.71 410.36 L67.47 410.36 L68.22 410.36 L68.97 410.36 L69.73 410.36 L70.48 410.36 L71.24 410.36 L72 410.36 L72.75 410.36 L73.5 410.36 L74.26 410.36 L75.02 410.36 L75.77 410.36 L76.53 410.36 L77.28 410.36 L78.03 410.36 L78.79 410.36 L79.54 410.36 L80.3 410.36 L81.06 410.36 L81.81 410.36 L82.56 410.36 L83.32 410.36 L84.08 410.36 L84.83 410.36 L85.59 410.36 L86.34 410.36 L87.09 410.35 L87.85 410.35 L88.6 410.33 L89.36 410.31 L90.12 410.28 L90.87 410.23 L91.62 410.16 L92.38 410.06 L93.13 409.92 L93.89 409.75 L94.64 409.55 L95.4 409.32 L96.16 409.08 L96.91 408.85 L97.66 408.64 L98.42 408.49 L99.17 408.39 L99.93 408.38 L100.69 408.44 L101.44 408.57 L102.2 408.76 L102.95 408.99 L103.7 409.23 L104.46 409.46 L105.22 409.68 L105.97 409.86 L106.72 410.01 L107.48 410.12 L108.23 410.21 L108.99 410.26 L109.75 410.3 L110.5 410.33 L111.25 410.34 L112.01 410.35 L112.77 410.36 L113.52 410.36 L114.27 410.36 L115.03 410.36 L115.79 410.36 L116.54 410.36 L117.3 410.36 L118.05 410.36 L118.8 410.36 L119.56 410.36 L120.31 410.36 L121.07 410.36 L121.83 410.36 L122.58 410.36 L123.34 410.36 L124.09 410.36 L124.84 410.36 L125.6 410.36 L126.36 410.36 L127.11 410.36 L127.86 410.36 L128.62 410.36 L129.38 410.36 L130.13 410.36 L130.88 410.36 L131.64 410.36 L132.39 410.36 L133.15 410.36 L133.91 410.36 L134.66 410.36 L135.42 410.36 L136.17 410.36 L136.93 410.36 L137.68 410.36 L138.44 410.36 L139.19 410.36 L139.94 410.36 L140.7 410.36 L141.45 410.36 L142.21 410.36 L142.97 410.36 L143.72 410.36 L144.47 410.36 L145.23 410.36 L145.99 410.36 L146.74 410.36 L147.5 410.36 L148.25 410.36 L149 410.36 L149.76 410.36 L150.51 410.36 L151.27 410.36 L152.03 410.36 L152.78 410.36 L153.53 410.36 L154.29 410.36 L155.05 410.36 L155.8 410.36 L156.56 410.36 L157.31 410.36 L158.06 410.36 L158.82 410.36 L159.58 410.36 L160.33 410.36 L161.08 410.36 L161.84 410.36 L162.59 410.36 L163.35 410.36 L164.1 410.36 L164.86 410.35 L165.62 410.34 L166.37 410.33 L167.12 410.3 L167.88 410.26 L168.63 410.2 L169.39 410.1 L170.15 409.96 L170.9 409.78 L171.66 409.54 L172.41 409.26 L173.16 408.93 L173.92 408.58 L174.68 408.22 L175.43 407.9 L176.19 407.65 L176.94 407.48 L177.69 407.42 L178.45 407.48 L179.21 407.65 L179.96 407.9 L180.72 408.22 L181.47 408.58 L182.22 408.93 L182.98 409.26 L183.73 409.54 L184.49 409.78 L185.25 409.96 L186 410.1 L186.75 410.2 L187.51 410.26 L188.26 410.3 L189.02 410.33 L189.78 410.34 L190.53 410.35 L191.28 410.36 L192.04 410.36 L192.79 410.36 L193.55 410.36 L194.31 410.36 L195.06 410.36 L195.81 410.36 L196.57 410.36 L197.32 410.36 L198.08 410.36 L198.84 410.36 L199.59 410.36 L200.34 410.36 L201.1 410.36 L201.86 410.36 L202.61 410.36 L203.36 410.36 L204.12 410.36 L204.88 410.36 L205.63 410.36 L206.39 410.36 L207.14 410.36 L207.89 410.36 L208.65 410.36 L209.41 410.36 L210.16 410.36 L210.91 410.36 L211.67 410.36 L212.43 410.36 L213.18 410.36 L213.94 410.36 L214.69 410.36 L215.44 410.36 L216.2 410.36 L216.96 410.36 L217.71 410.36 L218.47 410.36 L219.22 410.36 L219.97 410.36 L220.73 410.36 L221.49 410.36 L222.24 410.36 L223 410.36 L223.75 410.36 L224.5 410.36 L225.26 410.36 L226.02 410.36 L226.77 410.36 L227.53 410.36 L228.28 410.36 L229.03 410.36 L229.79 410.36 L230.54 410.36 L231.3 410.36 L232.06 410.36 L232.81 410.36 L233.56 410.36 L234.32 410.36 L235.07 410.36 L235.83 410.36 L236.59 410.36 L237.34 410.36 L238.09 410.36 L238.85 410.36 L239.6 410.36 L240.36 410.36 L241.12 410.36 L241.87 410.36 L242.62 410.36 L243.38 410.36 L244.13 410.36 L244.89 410.36 L245.65 410.36 L246.4 410.36 L247.16 410.36 L247.91 410.36 L248.66 410.36 L249.42 410.36 L250.17 410.36 L250.93 410.36 L251.69 410.36 L252.44 410.36 L253.2 410.36 L253.95 410.36 L254.7 410.36 L255.46 410.36 L256.22 410.36 L256.97 410.36 L257.73 410.36 L258.48 410.36 L259.24 410.36 L259.99 410.36 L260.75 410.36 L261.5 410.36" stroke="#f45a48" stroke-width="1.35" fill="none" stroke-linejoin="round" stroke-linecap="round"/>
<path d="M35 410.36 L35.76 410.36 L36.51 410.36 L37.27 410.36 L38.02 410.35 L38.77 410.35 L39.53 410.35 L40.28 410.35 L41.04 410.35 L41.8 410.35 L42.55 410.35 L43.3 410.35 L44.06 410.35 L44.81 410.34 L45.57 410.34 L46.33 410.34 L47.08 410.34 L47.84 410.34 L48.59 410.34 L49.34 410.33 L50.1 410.33 L50.86 410.33 L51.61 410.33 L52.36 410.33 L53.12 410.33 L53.88 410.32 L54.63 410.32 L55.38 410.32 L56.14 410.32 L56.89 410.32 L57.65 410.31 L58.41 410.31 L59.16 410.31 L59.91 410.31 L60.67 410.3 L61.42 410.3 L62.18 410.3 L62.94 410.3 L63.69 410.29 L64.44 410.29 L65.2 410.29 L65.95 410.29 L66.71 410.28 L67.47 410.28 L68.22 410.28 L68.97 410.27 L69.73 410.27 L70.48 410.27 L71.24 410.27 L72 410.26 L72.75 410.26 L73.5 410.25 L74.26 410.25 L75.02 410.24 L75.77 410.23 L76.53 410.22 L77.28 410.21 L78.03 410.2 L78.79 410.18 L79.54 410.16 L80.3 410.14 L81.06 410.13 L81.81 410.11 L82.56 410.09 L83.32 410.08 L84.08 410.08 L84.83 410.08 L85.59 410.09 L86.34 410.09 L87.09 410.1 L87.85 410.1 L88.6 410.09 L89.36 410.06 L90.12 410.01 L90.87 409.91 L91.62 409.76 L92.38 409.55 L93.13 409.27 L93.89 408.91 L94.64 408.48 L95.4 407.99 L96.16 407.47 L96.91 406.97 L97.66 406.53 L98.42 406.19 L99.17 405.99 L99.93 405.96 L100.69 406.09 L101.44 406.38 L102.2 406.79 L102.95 407.27 L103.7 407.78 L104.46 408.29 L105.22 408.75 L105.97 409.14 L106.72 409.46 L107.48 409.7 L108.23 409.88 L108.99 410.01 L109.75 410.09 L110.5 410.14 L111.25 410.17 L112.01 410.19 L112.77 410.2 L113.52 410.21 L114.27 410.21 L115.03 410.21 L115.79 410.21 L116.54 410.21 L117.3 410.21 L118.05 410.21 L118.8 410.21 L119.56 410.21 L120.31 410.21 L121.07 410.21 L121.83 410.21 L122.58 410.21 L123.34 410.21 L124.09 410.21 L124.84 410.21 L125.6 410.21 L126.36 410.21 L127.11 410.21 L127.86 410.21 L128.62 410.21 L129.38 410.21 L130.13 410.21 L130.88 410.21 L131.64 410.21 L132.39 410.21 L133.15 410.21 L133.91 410.21 L134.66 410.21 L135.42 410.21 L136.17 410.21 L136.93 410.21 L137.68 410.21 L138.44 410.21 L139.19 410.21 L139.94 410.21 L140.7 410.21 L141.45 410.21 L142.21 410.21 L142.97 410.2 L143.72 410.2 L144.47 410.2 L145.23 410.2 L145.99 410.2 L146.74 410.2 L147.5 410.2 L148.25 410.2 L149 410.2 L149.76 410.2 L150.51 410.19 L151.27 410.19 L152.03 410.19 L152.78 410.19 L153.53 410.19 L154.29 410.19 L155.05 410.18 L155.8 410.18 L156.56 410.18 L157.31 410.17 L158.06 410.17 L158.82 410.16 L159.58 410.16 L160.33 410.15 L161.08 410.14 L161.84 410.13 L162.59 410.13 L163.35 410.12 L164.1 410.12 L164.86 410.11 L165.62 410.1 L166.37 410.07 L167.12 410.02 L167.88 409.94 L168.63 409.82 L169.39 409.63 L170.15 409.35 L170.9 408.98 L171.66 408.51 L172.41 407.94 L173.16 407.28 L173.92 406.58 L174.68 405.87 L175.43 405.23 L176.19 404.71 L176.94 404.38 L177.69 404.26 L178.45 404.37 L179.21 404.71 L179.96 405.22 L180.72 405.86 L181.47 406.56 L182.22 407.27 L182.98 407.92 L183.73 408.48 L184.49 408.95 L185.25 409.31 L186 409.57 L186.75 409.75 L187.51 409.86 L188.26 409.92 L189.02 409.95 L189.78 409.96 L190.53 409.95 L191.28 409.94 L192.04 409.92 L192.79 409.91 L193.55 409.91 L194.31 409.91 L195.06 409.91 L195.81 409.93 L196.57 409.95 L197.32 409.97 L198.08 410 L198.84 410.02 L199.59 410.05 L200.34 410.07 L201.1 410.09 L201.86 410.11 L202.61 410.12 L203.36 410.13 L204.12 410.14 L204.88 410.15 L205.63 410.16 L206.39 410.16 L207.14 410.17 L207.89 410.17 L208.65 410.18 L209.41 410.18 L210.16 410.19 L210.91 410.19 L211.67 410.2 L212.43 410.2 L213.18 410.2 L213.94 410.21 L214.69 410.21 L215.44 410.21 L216.2 410.22 L216.96 410.22 L217.71 410.22 L218.47 410.23 L219.22 410.23 L219.97 410.23 L220.73 410.23 L221.49 410.24 L222.24 410.24 L223 410.24 L223.75 410.24 L224.5 410.24 L225.26 410.24 L226.02 410.24 L226.77 410.24 L227.53 410.25 L228.28 410.25 L229.03 410.25 L229.79 410.25 L230.54 410.25 L231.3 410.25 L232.06 410.25 L232.81 410.25 L233.56 410.25 L234.32 410.26 L235.07 410.26 L235.83 410.26 L236.59 410.27 L237.34 410.27 L238.09 410.27 L238.85 410.27 L239.6 410.28 L240.36 410.28 L241.12 410.28 L241.87 410.28 L242.62 410.28 L243.38 410.29 L244.13 410.29 L244.89 410.29 L245.65 410.29 L246.4 410.29 L247.16 410.29 L247.91 410.3 L248.66 410.3 L249.42 410.3 L250.17 410.3 L250.93 410.3 L251.69 410.3 L252.44 410.31 L253.2 410.31 L253.95 410.31 L254.7 410.31 L255.46 410.31 L256.22 410.31 L256.97 410.32 L257.73 410.32 L258.48 410.32 L259.24 410.32 L259.99 410.32 L260.75 410.32 L261.5 410.32" stroke="#7a4a48" stroke-width="1.35" fill="none" stroke-linejoin="round" stroke-linecap="round"/>
<path d="M35 410.36 L35.76 410.35 L36.51 410.35 L37.27 410.35 L38.02 410.35 L38.77 410.35 L39.53 410.35 L40.28 410.34 L41.04 410.34 L41.8 410.34 L42.55 410.34 L43.3 410.33 L44.06 410.33 L44.81 410.33 L45.57 410.33 L46.33 410.32 L47.08 410.32 L47.84 410.32 L48.59 410.31 L49.34 410.31 L50.1 410.31 L50.86 410.3 L51.61 410.3 L52.36 410.3 L53.12 410.29 L53.88 410.29 L54.63 410.28 L55.38 410.28 L56.14 410.28 L56.89 410.27 L57.65 410.27 L58.41 410.26 L59.16 410.26 L59.91 410.25 L60.67 410.25 L61.42 410.24 L62.18 410.24 L62.94 410.23 L63.69 410.23 L64.44 410.22 L65.2 410.22 L65.95 410.21 L66.71 410.21 L67.47 410.2 L68.22 410.19 L68.97 410.19 L69.73 410.18 L70.48 410.18 L71.24 410.17 L72 410.16 L72.75 410.15 L73.5 410.14 L74.26 410.13 L75.02 410.11 L75.77 410.09 L76.53 410.06 L77.28 410.03 L78.03 409.99 L78.79 409.94 L79.54 409.89 L80.3 409.83 L81.06 409.78 L81.81 409.73 L82.56 409.69 L83.32 409.67 L84.08 409.65 L84.83 409.66 L85.59 409.67 L86.34 409.7 L87.09 409.72 L87.85 409.74 L88.6 409.73 L89.36 409.69 L90.12 409.58 L90.87 409.39 L91.62 409.08 L92.38 408.63 L93.13 408.02 L93.89 407.25 L94.64 406.32 L95.4 405.27 L96.16 404.16 L96.91 403.08 L97.66 402.13 L98.42 401.4 L99.17 400.97 L99.93 400.9 L100.69 401.19 L101.44 401.8 L102.2 402.68 L102.95 403.72 L103.7 404.83 L104.46 405.91 L105.22 406.9 L105.97 407.75 L106.72 408.44 L107.48 408.97 L108.23 409.35 L108.99 409.62 L109.75 409.8 L110.5 409.91 L111.25 409.98 L112.01 410.02 L112.77 410.04 L113.52 410.05 L114.27 410.06 L115.03 410.06 L115.79 410.06 L116.54 410.06 L117.3 410.06 L118.05 410.06 L118.8 410.06 L119.56 410.06 L120.31 410.06 L121.07 410.06 L121.83 410.06 L122.58 410.06 L123.34 410.06 L124.09 410.06 L124.84 410.06 L125.6 410.06 L126.36 410.06 L127.11 410.06 L127.86 410.06 L128.62 410.06 L129.38 410.06 L130.13 410.06 L130.88 410.06 L131.64 410.06 L132.39 410.06 L133.15 410.06 L133.91 410.06 L134.66 410.06 L135.42 410.06 L136.17 410.06 L136.93 410.06 L137.68 410.06 L138.44 410.06 L139.19 410.06 L139.94 410.05 L140.7 410.05 L141.45 410.05 L142.21 410.05 L142.97 410.05 L143.72 410.05 L144.47 410.05 L145.23 410.04 L145.99 410.04 L146.74 410.04 L147.5 410.04 L148.25 410.04 L149 410.03 L149.76 410.03 L150.51 410.03 L151.27 410.02 L152.03 410.02 L152.78 410.02 L153.53 410.01 L154.29 410.01 L155.05 410.01 L155.8 410 L156.56 409.99 L157.31 409.99 L158.06 409.98 L158.82 409.96 L159.58 409.95 L160.33 409.94 L161.08 409.92 L161.84 409.91 L162.59 409.9 L163.35 409.88 L164.1 409.87 L164.86 409.86 L165.62 409.82 L166.37 409.76 L167.12 409.66 L167.88 409.48 L168.63 409.19 L169.39 408.76 L170.15 408.15 L170.9 407.32 L171.66 406.26 L172.41 404.97 L173.16 403.49 L173.92 401.9 L174.68 400.32 L175.43 398.87 L176.19 397.71 L176.94 396.95 L177.69 396.68 L178.45 396.94 L179.21 397.7 L179.96 398.85 L180.72 400.29 L181.47 401.87 L182.22 403.45 L182.98 404.91 L183.73 406.18 L184.49 407.21 L185.25 408.01 L186 408.58 L186.75 408.95 L187.51 409.18 L188.26 409.28 L189.02 409.31 L189.78 409.28 L190.53 409.22 L191.28 409.15 L192.04 409.09 L192.79 409.04 L193.55 409.01 L194.31 409.01 L195.06 409.04 L195.81 409.1 L196.57 409.18 L197.32 409.27 L198.08 409.37 L198.84 409.47 L199.59 409.56 L200.34 409.65 L201.1 409.72 L201.86 409.78 L202.61 409.83 L203.36 409.87 L204.12 409.9 L204.88 409.93 L205.63 409.95 L206.39 409.96 L207.14 409.98 L207.89 409.99 L208.65 410 L209.41 410.01 L210.16 410.01 L210.91 410.02 L211.67 410.03 L212.43 410.04 L213.18 410.05 L213.94 410.06 L214.69 410.06 L215.44 410.07 L216.2 410.08 L216.96 410.08 L217.71 410.09 L218.47 410.09 L219.22 410.1 L219.97 410.1 L220.73 410.11 L221.49 410.11 L222.24 410.11 L223 410.12 L223.75 410.12 L224.5 410.12 L225.26 410.13 L226.02 410.13 L226.77 410.13 L227.53 410.13 L228.28 410.13 L229.03 410.13 L229.79 410.13 L230.54 410.13 L231.3 410.14 L232.06 410.14 L232.81 410.14 L233.56 410.15 L234.32 410.15 L235.07 410.16 L235.83 410.17 L236.59 410.17 L237.34 410.18 L238.09 410.18 L238.85 410.19 L239.6 410.19 L240.36 410.2 L241.12 410.2 L241.87 410.21 L242.62 410.21 L243.38 410.21 L244.13 410.22 L244.89 410.22 L245.65 410.22 L246.4 410.23 L247.16 410.23 L247.91 410.23 L248.66 410.24 L249.42 410.24 L250.17 410.24 L250.93 410.25 L251.69 410.25 L252.44 410.25 L253.2 410.25 L253.95 410.26 L254.7 410.26 L255.46 410.26 L256.22 410.27 L256.97 410.27 L257.73 410.27 L258.48 410.28 L259.24 410.28 L259.99 410.28 L260.75 410.28 L261.5 410.28" stroke="#2a72c8" stroke-width="1.35" fill="none" stroke-linejoin="round" stroke-linecap="round"/>
<path d="M35 410.35 L35.76 410.34 L36.51 410.34 L37.27 410.33 L38.02 410.33 L38.77 410.32 L39.53 410.32 L40.28 410.31 L41.04 410.3 L41.8 410.3 L42.55 410.29 L43.3 410.28 L44.06 410.27 L44.81 410.26 L45.57 410.26 L46.33 410.25 L47.08 410.24 L47.84 410.23 L48.59 410.22 L49.34 410.21 L50.1 410.2 L50.86 410.19 L51.61 410.18 L52.36 410.17 L53.12 410.16 L53.88 410.15 L54.63 410.13 L55.38 410.12 L56.14 410.11 L56.89 410.1 L57.65 410.08 L58.41 410.07 L59.16 410.06 L59.91 410.04 L60.67 410.03 L61.42 410.01 L62.18 410 L62.94 409.98 L63.69 409.96 L64.44 409.95 L65.2 409.93 L65.95 409.92 L66.71 409.9 L67.47 409.88 L68.22 409.86 L68.97 409.85 L69.73 409.83 L70.48 409.81 L71.24 409.79 L72 409.76 L72.75 409.73 L73.5 409.7 L74.26 409.66 L75.02 409.6 L75.77 409.52 L76.53 409.43 L77.28 409.31 L78.03 409.16 L78.79 408.99 L79.54 408.8 L80.3 408.6 L81.06 408.4 L81.81 408.23 L82.56 408.08 L83.32 407.99 L84.08 407.95 L84.83 407.96 L85.59 408.03 L86.34 408.14 L87.09 408.26 L87.85 408.37 L88.6 408.42 L89.36 408.39 L90.12 408.21 L90.87 407.82 L91.62 407.17 L92.38 406.2 L93.13 404.87 L93.89 403.15 L94.64 401.07 L95.4 398.73 L96.16 396.26 L96.91 393.84 L97.66 391.7 L98.42 390.07 L99.17 389.11 L99.93 388.95 L100.69 389.59 L101.44 390.97 L102.2 392.94 L102.95 395.27 L103.7 397.75 L104.46 400.18 L105.22 402.4 L105.97 404.3 L106.72 405.83 L107.48 407.02 L108.23 407.88 L108.99 408.48 L109.75 408.88 L110.5 409.13 L111.25 409.29 L112.01 409.38 L112.77 409.42 L113.52 409.45 L114.27 409.46 L115.03 409.47 L115.79 409.47 L116.54 409.47 L117.3 409.47 L118.05 409.47 L118.8 409.47 L119.56 409.47 L120.31 409.47 L121.07 409.47 L121.83 409.47 L122.58 409.47 L123.34 409.47 L124.09 409.47 L124.84 409.47 L125.6 409.46 L126.36 409.46 L127.11 409.46 L127.86 409.46 L128.62 409.46 L129.38 409.46 L130.13 409.46 L130.88 409.46 L131.64 409.46 L132.39 409.46 L133.15 409.46 L133.91 409.46 L134.66 409.46 L135.42 409.46 L136.17 409.46 L136.93 409.45 L137.68 409.45 L138.44 409.45 L139.19 409.45 L139.94 409.44 L140.7 409.44 L141.45 409.44 L142.21 409.43 L142.97 409.43 L143.72 409.42 L144.47 409.42 L145.23 409.41 L145.99 409.41 L146.74 409.4 L147.5 409.4 L148.25 409.39 L149 409.38 L149.76 409.37 L150.51 409.36 L151.27 409.35 L152.03 409.34 L152.78 409.33 L153.53 409.32 L154.29 409.31 L155.05 409.3 L155.8 409.28 L156.56 409.26 L157.31 409.24 L158.06 409.21 L158.82 409.17 L159.58 409.13 L160.33 409.09 L161.08 409.04 L161.84 409 L162.59 408.97 L163.35 408.94 L164.1 408.91 L164.86 408.87 L165.62 408.81 L166.37 408.67 L167.12 408.43 L167.88 408.01 L168.63 407.34 L169.39 406.34 L170.15 404.91 L170.9 402.98 L171.66 400.5 L172.41 397.5 L173.16 394.05 L173.92 390.34 L174.68 386.64 L175.43 383.27 L176.19 380.55 L176.94 378.78 L177.69 378.16 L178.45 378.76 L179.21 380.51 L179.96 383.21 L180.72 386.57 L181.47 390.24 L182.22 393.91 L182.98 397.31 L183.73 400.25 L184.49 402.65 L185.25 404.46 L186 405.75 L186.75 406.57 L187.51 407.02 L188.26 407.19 L189.02 407.15 L189.78 406.99 L190.53 406.76 L191.28 406.51 L192.04 406.28 L192.79 406.11 L193.55 406.02 L194.31 406.03 L195.06 406.12 L195.81 406.31 L196.57 406.56 L197.32 406.87 L198.08 407.2 L198.84 407.53 L199.59 407.84 L200.34 408.13 L201.1 408.37 L201.86 408.57 L202.61 408.74 L203.36 408.87 L204.12 408.97 L204.88 409.05 L205.63 409.11 L206.39 409.16 L207.14 409.2 L207.89 409.24 L208.65 409.27 L209.41 409.3 L210.16 409.32 L210.91 409.35 L211.67 409.38 L212.43 409.4 L213.18 409.42 L213.94 409.45 L214.69 409.47 L215.44 409.49 L216.2 409.51 L216.96 409.52 L217.71 409.54 L218.47 409.55 L219.22 409.57 L219.97 409.58 L220.73 409.6 L221.49 409.61 L222.24 409.62 L223 409.63 L223.75 409.64 L224.5 409.65 L225.26 409.66 L226.02 409.66 L226.77 409.67 L227.53 409.67 L228.28 409.67 L229.03 409.67 L229.79 409.68 L230.54 409.68 L231.3 409.69 L232.06 409.7 L232.81 409.71 L233.56 409.72 L234.32 409.74 L235.07 409.76 L235.83 409.78 L236.59 409.79 L237.34 409.81 L238.09 409.83 L238.85 409.84 L239.6 409.86 L240.36 409.87 L241.12 409.89 L241.87 409.9 L242.62 409.91 L243.38 409.92 L244.13 409.93 L244.89 409.94 L245.65 409.95 L246.4 409.96 L247.16 409.97 L247.91 409.98 L248.66 409.99 L249.42 410 L250.17 410.01 L250.93 410.02 L251.69 410.02 L252.44 410.03 L253.2 410.04 L253.95 410.05 L254.7 410.06 L255.46 410.07 L256.22 410.08 L256.97 410.09 L257.73 410.1 L258.48 410.11 L259.24 410.11 L259.99 410.12 L260.75 410.12 L261.5 410.13" stroke="#27ae68" stroke-width="1.35" fill="none" stroke-linejoin="round" stroke-linecap="round"/>
<path d="M35 410.29 L35.76 410.27 L36.51 410.24 L37.27 410.22 L38.02 410.19 L38.77 410.16 L39.53 410.12 L40.28 410.09 L41.04 410.05 L41.8 410.01 L42.55 409.96 L43.3 409.92 L44.06 409.88 L44.81 409.83 L45.57 409.78 L46.33 409.74 L47.08 409.69 L47.84 409.63 L48.59 409.58 L49.34 409.53 L50.1 409.47 L50.86 409.42 L51.61 409.36 L52.36 409.3 L53.12 409.24 L53.88 409.18 L54.63 409.11 L55.38 409.05 L56.14 408.98 L56.89 408.91 L57.65 408.84 L58.41 408.76 L59.16 408.68 L59.91 408.61 L60.67 408.53 L61.42 408.44 L62.18 408.36 L62.94 408.27 L63.69 408.18 L64.44 408.1 L65.2 408 L65.95 407.91 L66.71 407.82 L67.47 407.73 L68.22 407.63 L68.97 407.54 L69.73 407.43 L70.48 407.33 L71.24 407.21 L72 407.08 L72.75 406.94 L73.5 406.76 L74.26 406.54 L75.02 406.25 L75.77 405.88 L76.53 405.41 L77.28 404.83 L78.03 404.11 L78.79 403.29 L79.54 402.37 L80.3 401.42 L81.06 400.47 L81.81 399.62 L82.56 398.93 L83.32 398.47 L84.08 398.27 L84.83 398.34 L85.59 398.66 L86.34 399.16 L87.09 399.74 L87.85 400.25 L88.6 400.54 L89.36 400.38 L90.12 399.54 L90.87 397.76 L91.62 394.73 L92.38 390.19 L93.13 383.94 L93.89 375.91 L94.64 366.21 L95.4 355.25 L96.16 343.66 L96.91 332.36 L97.66 322.37 L98.42 314.71 L99.17 310.24 L99.93 309.47 L100.69 312.49 L101.44 318.95 L102.2 328.13 L102.95 339.04 L103.7 350.66 L104.46 362.02 L105.22 372.38 L105.97 381.27 L106.72 388.47 L107.48 394 L108.23 398.04 L108.99 400.85 L109.75 402.72 L110.5 403.9 L111.25 404.62 L112.01 405.03 L112.77 405.26 L113.52 405.38 L114.27 405.43 L115.03 405.46 L115.79 405.47 L116.54 405.47 L117.3 405.47 L118.05 405.47 L118.8 405.47 L119.56 405.46 L120.31 405.46 L121.07 405.46 L121.83 405.45 L122.58 405.45 L123.34 405.45 L124.09 405.44 L124.84 405.44 L125.6 405.43 L126.36 405.43 L127.11 405.43 L127.86 405.42 L128.62 405.42 L129.38 405.42 L130.13 405.41 L130.88 405.41 L131.64 405.4 L132.39 405.4 L133.15 405.4 L133.91 405.39 L134.66 405.39 L135.42 405.39 L136.17 405.38 L136.93 405.37 L137.68 405.36 L138.44 405.35 L139.19 405.34 L139.94 405.32 L140.7 405.31 L141.45 405.28 L142.21 405.26 L142.97 405.24 L143.72 405.21 L144.47 405.18 L145.23 405.15 L145.99 405.12 L146.74 405.09 L147.5 405.05 L148.25 405.01 L149 404.97 L149.76 404.93 L150.51 404.88 L151.27 404.83 L152.03 404.77 L152.78 404.72 L153.53 404.65 L154.29 404.59 L155.05 404.51 L155.8 404.42 L156.56 404.32 L157.31 404.18 L158.06 404.02 L158.82 403.83 L159.58 403.6 L160.33 403.36 L161.08 403.12 L161.84 402.89 L162.59 402.71 L163.35 402.56 L164.1 402.43 L164.86 402.27 L165.62 401.96 L166.37 401.36 L167.12 400.24 L167.88 398.31 L168.63 395.21 L169.39 390.55 L170.15 383.88 L170.9 374.87 L171.66 363.31 L172.41 349.26 L173.16 333.17 L173.92 315.87 L174.68 298.6 L175.43 282.84 L176.19 270.14 L176.94 261.87 L177.69 258.97 L178.45 261.78 L179.21 269.96 L179.96 282.56 L180.72 298.22 L181.47 315.37 L182.22 332.52 L182.98 348.43 L183.73 362.23 L184.49 373.49 L185.25 382.12 L186 388.29 L186.75 392.37 L187.51 394.77 L188.26 395.89 L189.02 396.12 L189.78 395.77 L190.53 395.09 L191.28 394.31 L192.04 393.58 L192.79 393.03 L193.55 392.73 L194.31 392.75 L195.06 393.07 L195.81 393.72 L196.57 394.59 L197.32 395.62 L198.08 396.76 L198.84 397.9 L199.59 398.97 L200.34 399.96 L201.1 400.82 L201.86 401.54 L202.61 402.14 L203.36 402.62 L204.12 403.01 L204.88 403.34 L205.63 403.61 L206.39 403.84 L207.14 404.04 L207.89 404.21 L208.65 404.37 L209.41 404.53 L210.16 404.67 L210.91 404.81 L211.67 404.95 L212.43 405.08 L213.18 405.2 L213.94 405.33 L214.69 405.44 L215.44 405.55 L216.2 405.66 L216.96 405.75 L217.71 405.84 L218.47 405.93 L219.22 406.01 L219.97 406.09 L220.73 406.17 L221.49 406.24 L222.24 406.31 L223 406.37 L223.75 406.42 L224.5 406.47 L225.26 406.5 L226.02 406.53 L226.77 406.55 L227.53 406.57 L228.28 406.58 L229.03 406.59 L229.79 406.61 L230.54 406.63 L231.3 406.66 L232.06 406.71 L232.81 406.78 L233.56 406.86 L234.32 406.95 L235.07 407.04 L235.83 407.15 L236.59 407.25 L237.34 407.35 L238.09 407.44 L238.85 407.53 L239.6 407.61 L240.36 407.68 L241.12 407.75 L241.87 407.81 L242.62 407.87 L243.38 407.93 L244.13 407.98 L244.89 408.04 L245.65 408.09 L246.4 408.15 L247.16 408.2 L247.91 408.25 L248.66 408.31 L249.42 408.36 L250.17 408.41 L250.93 408.46 L251.69 408.51 L252.44 408.57 L253.2 408.62 L253.95 408.67 L254.7 408.72 L255.46 408.77 L256.22 408.82 L256.97 408.88 L257.73 408.92 L258.48 408.96 L259.24 409 L259.99 409.03 L260.75 409.06 L261.5 409.09" stroke="#a874cf" stroke-width="1.6" fill="none" stroke-linejoin="round" stroke-linecap="round"/>
<rect x="35" y="237.0" width="226.5" height="183.8" fill="none" stroke="#302c2a" stroke-width="1.3"/>
<path d="M35 420.8v-3.7M72.75 420.8v-3.7M110.5 420.8v-3.7M148.25 420.8v-3.7M186 420.8v-3.7M223.75 420.8v-3.7M261.5 420.8v-3.7M53.88 420.8v-2.2M91.62 420.8v-2.2M129.38 420.8v-2.2M167.12 420.8v-2.2M204.88 420.8v-2.2M242.62 420.8v-2.2" stroke="#302c2a" stroke-width="1.15" fill="none"/>
<text transform="translate(35 432) scale(0.9091 1)" font-size="10.45" text-anchor="middle" fill="#222" stroke="#222">1200</text>
<text transform="translate(72.75 432) scale(0.9091 1)" font-size="10.45" text-anchor="middle" fill="#222" stroke="#222">1250</text>
<text transform="translate(110.5 432) scale(0.9091 1)" font-size="10.45" text-anchor="middle" fill="#222" stroke="#222">1300</text>
<text transform="translate(148.25 432) scale(0.9091 1)" font-size="10.45" text-anchor="middle" fill="#222" stroke="#222">1350</text>
<text transform="translate(186 432) scale(0.9091 1)" font-size="10.45" text-anchor="middle" fill="#222" stroke="#222">1400</text>
<text transform="translate(223.75 432) scale(0.9091 1)" font-size="10.45" text-anchor="middle" fill="#222" stroke="#222">1450</text>
<text transform="translate(261.5 432) scale(0.9091 1)" font-size="10.45" text-anchor="middle" fill="#222" stroke="#222">1500</text>
<path d="M35 391.39h3.7M35 354.63h3.7M35 317.87h3.7M35 281.11h3.7M35 244.35h3.7M35 409.77h2.2M35 373.01h2.2M35 336.25h2.2M35 299.49h2.2M35 262.73h2.2" stroke="#302c2a" stroke-width="1.15" fill="none"/>
<text transform="translate(31.8 394.59) scale(0.9091 1)" font-size="10.45" text-anchor="end" fill="#222" stroke="#222">0.5</text>
<text transform="translate(31.8 357.83) scale(0.9091 1)" font-size="10.45" text-anchor="end" fill="#222" stroke="#222">1.0</text>
<text transform="translate(31.8 321.07) scale(0.9091 1)" font-size="10.45" text-anchor="end" fill="#222" stroke="#222">1.5</text>
<text transform="translate(31.8 284.31) scale(0.9091 1)" font-size="10.45" text-anchor="end" fill="#222" stroke="#222">2.0</text>
<text transform="translate(31.8 247.55) scale(0.9091 1)" font-size="10.45" text-anchor="end" fill="#222" stroke="#222">2.5</text>
<text transform="translate(43.3 249.7) scale(0.9091 1)" font-size="12.1" text-anchor="start" font-weight="bold" stroke-width="0" fill="#222" stroke="#222">(c)</text>
<text transform="translate(13.8 328.1) rotate(-90) scale(0.9091 1)" font-size="12.54" text-anchor="middle" fill="#222" stroke="#222">Intensity (×10<tspan baseline-shift="4" font-size="7.48">4</tspan> a.u.)</text>
<text transform="translate(148 448) scale(0.9091 1)" font-size="12.1" text-anchor="middle" fill="#222" stroke="#222">RamanShift (cm<tspan baseline-shift="4" font-size="7.7">-1</tspan>)</text>
<text transform="translate(118.8 351.2) rotate(-90) scale(0.9091 1)" font-size="11" text-anchor="middle" fill="#222" stroke="#222">CO<tspan baseline-shift="-2.2" font-size="8.25">2</tspan> 1289 cm<tspan baseline-shift="4" font-size="7.7">-1</tspan></text>
<text transform="translate(197.6 328.8) rotate(-90) scale(0.9091 1)" font-size="11.11" text-anchor="middle" fill="#222" stroke="#222">CO<tspan baseline-shift="-2.2" font-size="8.25">2</tspan> 1387 cm<tspan baseline-shift="4" font-size="7.7">-1</tspan></text>
<path d="M80.2 244.6H100.5" stroke="#f45a48" stroke-width="1.65"/>
<text transform="translate(103.6 247.3) scale(0.9091 1)" font-size="10.45" text-anchor="start" fill="#222" stroke="#222">CO<tspan baseline-shift="-2.2" font-size="7.15">2</tspan> 499ppm</text>
<path d="M80.2 258.6H100.5" stroke="#7a4a48" stroke-width="1.65"/>
<text transform="translate(103.6 261.3) scale(0.9091 1)" font-size="10.45" text-anchor="start" fill="#222" stroke="#222">CO<tspan baseline-shift="-2.2" font-size="7.15">2</tspan> 1928ppm</text>
<path d="M80.2 272.6H100.5" stroke="#2a72c8" stroke-width="1.65"/>
<text transform="translate(103.6 275.3) scale(0.9091 1)" font-size="10.45" text-anchor="start" fill="#222" stroke="#222">CO<tspan baseline-shift="-2.2" font-size="7.15">2</tspan> 4820ppm</text>
<path d="M80.2 286.6H100.5" stroke="#27ae68" stroke-width="1.65"/>
<text transform="translate(103.6 289.3) scale(0.9091 1)" font-size="10.45" text-anchor="start" fill="#222" stroke="#222">CO<tspan baseline-shift="-2.2" font-size="7.15">2</tspan> 10,000ppm</text>
<path d="M80.2 300.6H100.5" stroke="#a874cf" stroke-width="1.65"/>
<text transform="translate(103.6 303.3) scale(0.9091 1)" font-size="10.45" text-anchor="start" fill="#222" stroke="#222">CO<tspan baseline-shift="-2.2" font-size="7.15">2</tspan> 51,050ppm</text>
<path d="M309.3 414.01 L521.2 349.88" stroke="#222" stroke-width="1.4" fill="none" stroke-linejoin="round" stroke-linecap="round"/>
<path d="M309.3 414.28 L350.81 389.34" stroke="#2a6cc4" stroke-width="1.4" fill="none" stroke-linejoin="round" stroke-linecap="round"/>
<path d="M309.3 415.22 L350.39 277.84" stroke="#f4572e" stroke-width="1.4" fill="none" stroke-linejoin="round" stroke-linecap="round"/>
<circle cx="311.37" cy="413.25" r="2.4" fill="#fff" stroke="#222" stroke-width="1.25"/>
<circle cx="317.3" cy="411.72" r="2.4" fill="#fff" stroke="#222" stroke-width="1.25"/>
<circle cx="329.31" cy="408.05" r="2.4" fill="#fff" stroke="#222" stroke-width="1.25"/>
<circle cx="350.81" cy="401.33" r="2.4" fill="#fff" stroke="#222" stroke-width="1.25"/>
<circle cx="521.2" cy="349.97" r="2.4" fill="#fff" stroke="#222" stroke-width="1.25"/>
<path d="M306.82 410.15h5.8L309.72 415.08Z" fill="#fff" stroke="#f4572e" stroke-width="1.25" stroke-linejoin="miter"/>
<path d="M310.14 401.9h5.8L313.04 406.83Z" fill="#fff" stroke="#f4572e" stroke-width="1.25" stroke-linejoin="miter"/>
<path d="M315.12 386.62h5.8L318.02 391.55Z" fill="#fff" stroke="#f4572e" stroke-width="1.25" stroke-linejoin="miter"/>
<path d="M326.82 346.88h5.8L329.72 351.81Z" fill="#fff" stroke="#f4572e" stroke-width="1.25" stroke-linejoin="miter"/>
<path d="M347.49 275.05h5.8L350.39 279.98Z" fill="#fff" stroke="#f4572e" stroke-width="1.25" stroke-linejoin="miter"/>
<path d="M308.24 412.94L311.34 409.84L314.44 412.94L311.34 416.04Z" fill="#fff" stroke="#2a6cc4" stroke-width="1.25"/>
<path d="M310.33 411.72L313.43 408.62L316.53 411.72L313.43 414.82Z" fill="#fff" stroke="#2a6cc4" stroke-width="1.25"/>
<path d="M314.86 409.27L317.96 406.17L321.06 409.27L317.96 412.37Z" fill="#fff" stroke="#2a6cc4" stroke-width="1.25"/>
<path d="M327.37 401.63L330.47 398.53L333.57 401.63L330.47 404.73Z" fill="#fff" stroke="#2a6cc4" stroke-width="1.25"/>
<path d="M347.71 389.4L350.81 386.3L353.91 389.4L350.81 392.5Z" fill="#fff" stroke="#2a6cc4" stroke-width="1.25"/>
<rect x="309.3" y="238.1" width="228.3" height="183.4" fill="none" stroke="#302c2a" stroke-width="1.3"/>
<path d="M309.3 421.5v-3.7M350.81 421.5v-3.7M392.32 421.5v-3.7M433.83 421.5v-3.7M475.34 421.5v-3.7M516.85 421.5v-3.7M330.05 421.5v-2.2M371.56 421.5v-2.2M413.07 421.5v-2.2M454.58 421.5v-2.2M496.09 421.5v-2.2" stroke="#302c2a" stroke-width="1.15" fill="none"/>
<text transform="translate(309.3 432.9) scale(0.9091 1)" font-size="10.45" text-anchor="middle" fill="#222" stroke="#222">0</text>
<text transform="translate(350.81 432.9) scale(0.9091 1)" font-size="10.45" text-anchor="middle" fill="#222" stroke="#222">10,000</text>
<text transform="translate(392.32 432.9) scale(0.9091 1)" font-size="10.45" text-anchor="middle" fill="#222" stroke="#222">20,000</text>
<text transform="translate(433.83 432.9) scale(0.9091 1)" font-size="10.45" text-anchor="middle" fill="#222" stroke="#222">30,000</text>
<text transform="translate(475.34 432.9) scale(0.9091 1)" font-size="10.45" text-anchor="middle" fill="#222" stroke="#222">40,000</text>
<text transform="translate(516.85 432.9) scale(0.9091 1)" font-size="10.45" text-anchor="middle" fill="#222" stroke="#222">50,000</text>
<path d="M309.3 421.5h3.7M309.3 360.37h3.7M309.3 299.23h3.7M309.3 238.1h3.7M309.3 390.93h2.2M309.3 329.8h2.2M309.3 268.67h2.2" stroke="#302c2a" stroke-width="1.15" fill="none"/>
<text transform="translate(305.3 424.7) scale(0.9091 1)" font-size="10.45" text-anchor="end" fill="#222" stroke="#222">0</text>
<text transform="translate(305.3 363.57) scale(0.9091 1)" font-size="10.45" text-anchor="end" fill="#222" stroke="#222">2</text>
<text transform="translate(305.3 302.43) scale(0.9091 1)" font-size="10.45" text-anchor="end" fill="#222" stroke="#222">4</text>
<text transform="translate(305.3 241.3) scale(0.9091 1)" font-size="10.45" text-anchor="end" fill="#222" stroke="#222">6</text>
<text transform="translate(317.6 252.6) scale(0.9091 1)" font-size="12.76" text-anchor="start" fill="#222" stroke="#222">(d)</text>
<text transform="translate(292.6 330.2) rotate(-90) scale(0.9091 1)" font-size="12.38" text-anchor="middle" fill="#222" stroke="#222">Intensity (×10<tspan baseline-shift="4" font-size="7.48">4</tspan> a.u.)</text>
<text transform="translate(423.1 449.8) scale(0.9091 1)" font-size="12.32" text-anchor="middle" fill="#222" stroke="#222">Concentration (ppm)</text>
<path d="M486.5 260.8h6.4L489.7 266.24Z" fill="#fff" stroke="#f4572e" stroke-width="1.25" stroke-linejoin="miter"/>
<circle cx="489.7" cy="279.5" r="2.5" fill="#fff" stroke="#222" stroke-width="1.25"/>
<path d="M486.4 296L489.7 292.7L493 296L489.7 299.3Z" fill="#fff" stroke="#2a6cc4" stroke-width="1.25"/>
<text transform="translate(505 266.6) scale(0.9091 1)" font-size="12.65" text-anchor="start" fill="#222" stroke="#222">CH<tspan baseline-shift="-2.2" font-size="8.25">4</tspan></text>
<text transform="translate(505 282.7) scale(0.9091 1)" font-size="12.65" text-anchor="start" fill="#222" stroke="#222">CO<tspan baseline-shift="-2.2" font-size="8.25">2</tspan></text>
<text transform="translate(505 299.1) scale(0.9091 1)" font-size="12.65" text-anchor="start" fill="#222" stroke="#222">H<tspan baseline-shift="-2.2" font-size="8.25">2</tspan></text>
<text transform="translate(356.4 276.6) scale(0.9091 1)" font-size="12.54" text-anchor="start" stroke-width="0.08" fill="#f4572e" stroke="#f4572e">y=4.521x+2055</text>
<text transform="translate(356.4 293) scale(0.9091 1)" font-size="12.43" text-anchor="start" stroke-width="0.08" fill="#f4572e" stroke="#f4572e">R<tspan baseline-shift="4" font-size="8.25">2</tspan>=0.99925</text>
<text transform="translate(343.2 367.2) scale(0.9091 1)" font-size="12.32" text-anchor="start" stroke-width="0.08" fill="#2a6cc4" stroke="#2a6cc4">R<tspan baseline-shift="4" font-size="8.25">2</tspan>=0.99991</text>
<text transform="translate(343.2 379.4) scale(0.9091 1)" font-size="12.32" text-anchor="start" stroke-width="0.08" fill="#2a6cc4" stroke="#2a6cc4">y=0.816x+2362</text>
<text transform="translate(463.6 379.3) scale(0.9091 1)" font-size="12.38" text-anchor="start" fill="#222" stroke="#222">y=0.411x+2452</text>
<text transform="translate(465.4 395.6) scale(0.9091 1)" font-size="12.43" text-anchor="start" fill="#222" stroke="#222">R<tspan baseline-shift="4" font-size="8.25">2</tspan>=0.99989</text>
</svg></body></html>
